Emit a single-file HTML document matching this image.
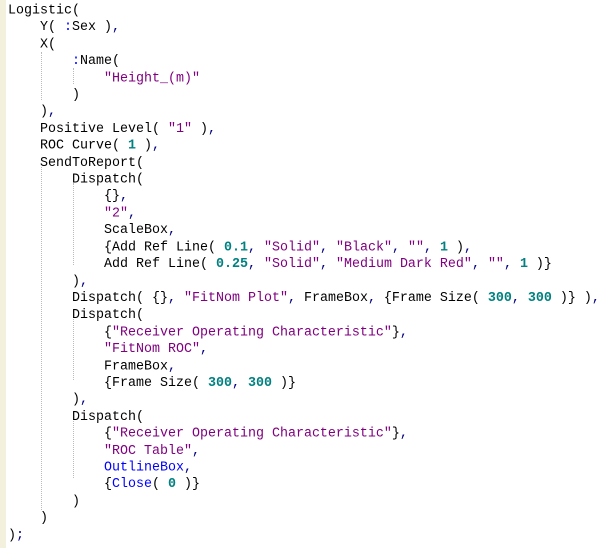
<!DOCTYPE html>
<html><head><style>
html,body{margin:0;padding:0;background:#fff;width:615px;height:548px;overflow:hidden;position:relative}
.g{position:absolute;left:0;top:0;width:6px;height:548px;background:#f3f1de}
pre{position:absolute;left:8px;top:3px;margin:0;font-family:"Liberation Mono",monospace;font-size:13.33px;line-height:16.4px;color:#000;transform:scaleY(1.032);transform-origin:0 0}
.s{color:#800080}.n{color:#008080;font-weight:bold}.p{color:#000080}.b{color:#0000ff}
.v{position:absolute;width:0;border-left:1px dotted #bbb}
</style></head><body>
<div class="g"></div>
<div class="v" style="left:41px;top:52px;height:48px"></div>
<div class="v" style="left:73px;top:68px;height:16px"></div>
<div class="v" style="left:41px;top:167px;height:343px"></div>
<div class="v" style="left:73px;top:183px;height:82px"></div>
<div class="v" style="left:73px;top:314px;height:66px"></div>
<div class="v" style="left:73px;top:412px;height:66px"></div>
<pre>Logistic(
    Y( <span class="b">:</span>Sex )<span class="p">,</span>
    X(
        <span class="b">:</span>Name(
            <span class="s">"Height_(m)"</span>
        )
    )<span class="p">,</span>
    Positive Level( <span class="s">"1"</span> )<span class="p">,</span>
    ROC Curve( <span class="n">1</span> )<span class="p">,</span>
    SendToReport(
        Dispatch(
            {}<span class="p">,</span>
            <span class="s">"2"</span><span class="p">,</span>
            ScaleBox<span class="p">,</span>
            {Add Ref Line( <span class="n">0.1</span><span class="p">,</span> <span class="s">"Solid"</span><span class="p">,</span> <span class="s">"Black"</span><span class="p">,</span> <span class="s">""</span><span class="p">,</span> <span class="n">1</span> )<span class="p">,</span>
            Add Ref Line( <span class="n">0.25</span><span class="p">,</span> <span class="s">"Solid"</span><span class="p">,</span> <span class="s">"Medium Dark Red"</span><span class="p">,</span> <span class="s">""</span><span class="p">,</span> <span class="n">1</span> )}
        )<span class="p">,</span>
        Dispatch( {}<span class="p">,</span> <span class="s">"FitNom Plot"</span><span class="p">,</span> FrameBox<span class="p">,</span> {Frame Size( <span class="n">300</span><span class="p">,</span> <span class="n">300</span> )} )<span class="p">,</span>
        Dispatch(
            {<span class="s">"Receiver Operating Characteristic"</span>}<span class="p">,</span>
            <span class="s">"FitNom ROC"</span><span class="p">,</span>
            FrameBox<span class="p">,</span>
            {Frame Size( <span class="n">300</span><span class="p">,</span> <span class="n">300</span> )}
        )<span class="p">,</span>
        Dispatch(
            {<span class="s">"Receiver Operating Characteristic"</span>}<span class="p">,</span>
            <span class="s">"ROC Table"</span><span class="p">,</span>
            <span class="b">OutlineBox</span><span class="p">,</span>
            {<span class="b">Close</span>( <span class="n">0</span> )}
        )
    )
)<span class="p">;</span></pre>
</body></html>
